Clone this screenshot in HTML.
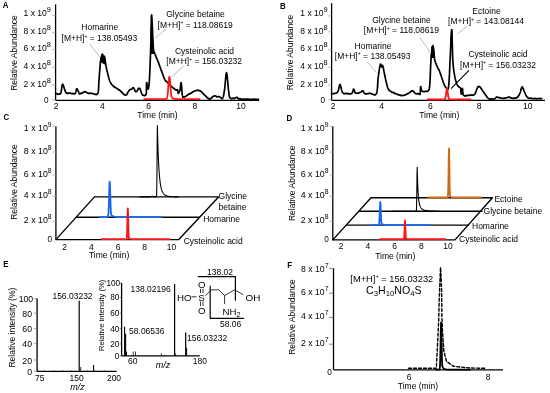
<!DOCTYPE html><html><head><meta charset="utf-8"><style>html,body{margin:0;padding:0;background:#fff;width:550px;height:393px;overflow:hidden;position:relative}</style></head><body><svg width="550" height="393" viewBox="0 0 550 393" style="position:absolute;left:0;top:0;will-change:transform;filter:blur(0.3px)">
<rect width="550" height="393" fill="#fff"/>
<g style='font-family:"Liberation Sans", sans-serif' fill="#000">
<text x="2.8" y="7.7" font-size="8.6" font-weight="bold" fill="#000" transform="translate(2.8,8.1) scale(0.92,1) translate(-2.8,-7.7)">A</text>
<line x1="55.6" y1="4.4" x2="55.6" y2="100.3" stroke="#000" stroke-width="1.3" />
<line x1="52.2" y1="15.6" x2="55.6" y2="15.6" stroke="#999" stroke-width="0.7" />
<text x="50.9" y="16.3" font-size="8.5" text-anchor="end">1 x 10<tspan font-size="7.4" dy="-4.1">9</tspan></text>
<line x1="52.2" y1="32.4" x2="55.6" y2="32.4" stroke="#999" stroke-width="0.7" />
<text x="50.9" y="33.8" font-size="8.5" text-anchor="end">8 x 10<tspan font-size="7.4" dy="-4.1">8</tspan></text>
<line x1="52.2" y1="49.6" x2="55.6" y2="49.6" stroke="#999" stroke-width="0.7" />
<text x="50.9" y="50.6" font-size="8.5" text-anchor="end">6 x 10<tspan font-size="7.4" dy="-4.1">8</tspan></text>
<line x1="52.2" y1="67.3" x2="55.6" y2="67.3" stroke="#999" stroke-width="0.7" />
<text x="50.9" y="69.0" font-size="8.5" text-anchor="end">4 x 10<tspan font-size="7.4" dy="-4.1">8</tspan></text>
<line x1="52.2" y1="85.0" x2="55.6" y2="85.0" stroke="#999" stroke-width="0.7" />
<text x="50.9" y="86.8" font-size="8.5" text-anchor="end">2 x 10<tspan font-size="7.4" dy="-4.1">8</tspan></text>
<line x1="52.2" y1="99.8" x2="55.6" y2="99.8" stroke="#999" stroke-width="0.7" />
<text x="48.6" y="102.9" font-size="8.2" text-anchor="end" >0</text>
<line x1="55.6" y1="100.3" x2="259" y2="100.3" stroke="#000" stroke-width="1.3" />
<text x="56.0" y="109.3" font-size="8.5" text-anchor="middle" >2</text>
<text x="102.25" y="109.3" font-size="8.5" text-anchor="middle" >4</text>
<text x="148.5" y="109.3" font-size="8.5" text-anchor="middle" >6</text>
<text x="194.75" y="109.3" font-size="8.5" text-anchor="middle" >8</text>
<text x="241.0" y="109.3" font-size="8.5" text-anchor="middle" >10</text>
<text x="157.5" y="118.1" font-size="8.5" text-anchor="middle" >Time (min)</text>
<text transform="translate(17.2,53) rotate(-90)" font-size="8.5" text-anchor="middle">Relative Abundance</text>
<text x="99.7" y="30.1" font-size="8.5" text-anchor="middle" >Homarine</text>
<text x="99.4" y="41.0" font-size="8.5" text-anchor="middle">[M+H]<tspan font-size="5.10" dy="-3.4">+</tspan><tspan dy="3.4"> = 138.05493</tspan></text>
<text x="195.5" y="17.4" font-size="8.5" text-anchor="middle" >Glycine betaine</text>
<text x="195.1" y="27.7" font-size="8.5" text-anchor="middle">[M+H]<tspan font-size="5.10" dy="-3.4">+</tspan><tspan dy="3.4"> = 118.08619</tspan></text>
<text x="204.5" y="54" font-size="8.5" text-anchor="middle" >Cysteinolic acid</text>
<text x="204.2" y="64.1" font-size="8.5" text-anchor="middle">[M+H]<tspan font-size="5.10" dy="-3.4">+</tspan><tspan dy="3.4"> = 156.03232</tspan></text>
<line x1="89.6" y1="44" x2="99.9" y2="57.2" stroke="#777" stroke-width="0.5" />
<line x1="166" y1="29.2" x2="155.3" y2="37.9" stroke="#777" stroke-width="0.5" />
<line x1="183.7" y1="66.1" x2="171.8" y2="76.8" stroke="#777" stroke-width="0.5" />
<polyline points="55.60,93.46 55.94,93.65 56.41,93.77 56.97,93.66 57.60,94.10 58.25,94.34 58.89,94.27 59.51,93.87 60.05,94.00 60.50,93.60 60.68,93.32 60.85,92.89 61.00,92.41 61.13,91.86 61.25,91.25 61.36,90.60 61.46,89.92 61.55,89.23 61.64,88.54 61.73,87.75 61.82,87.20 61.91,86.59 62.00,86.03 62.10,85.53 62.21,85.12 62.32,84.80 62.46,84.59 62.60,84.50 62.77,84.19 62.94,84.72 63.11,85.01 63.30,85.40 63.49,85.88 63.68,86.43 63.88,87.03 64.08,87.67 64.28,88.33 64.49,89.01 64.70,89.68 64.92,89.95 65.13,90.93 65.35,91.49 65.56,91.98 65.78,92.39 66.00,92.65 66.46,93.13 66.93,93.37 67.41,93.11 67.90,93.44 68.40,93.36 68.92,92.94 69.45,93.19 70.00,93.14 70.47,93.27 70.99,93.37 71.53,93.76 72.08,93.62 72.64,93.44 73.18,93.83 73.70,93.65 74.19,93.86 74.63,93.78 75.00,93.70 75.31,93.28 75.55,92.80 75.75,92.21 75.91,91.56 76.04,91.23 76.17,90.22 76.29,89.62 76.43,89.14 76.60,88.82 76.80,88.70 77.01,88.79 77.24,89.12 77.48,89.45 77.72,89.95 77.98,90.52 78.24,91.13 78.50,91.65 78.75,92.31 79.01,92.82 79.26,93.23 79.50,93.88 80.00,93.75 80.49,93.72 80.97,93.14 81.47,93.23 82.00,93.29 82.47,92.81 82.96,92.56 83.47,92.11 83.98,92.03 84.49,91.57 85.00,91.80 85.49,91.90 85.96,91.81 86.44,92.41 86.93,92.73 87.44,92.85 88.00,93.20 88.44,93.28 88.89,93.59 89.35,93.36 89.83,93.38 90.33,93.12 90.86,93.38 91.41,93.45 92.00,93.40 92.47,93.58 92.99,93.62 93.55,93.73 94.13,94.05 94.72,94.31 95.31,94.44 95.88,94.19 96.42,94.54 96.91,94.05 97.34,94.10 97.70,93.60 97.82,93.34 97.94,92.81 98.04,92.72 98.13,92.37 98.21,91.99 98.28,91.59 98.35,91.17 98.40,90.72 98.45,90.26 98.50,89.77 98.53,89.27 98.57,88.75 98.60,88.22 98.63,87.68 98.65,87.12 98.67,86.55 98.69,85.97 98.71,85.39 98.74,84.79 98.76,84.20 98.78,83.60 98.81,82.99 98.84,82.39 98.87,81.79 98.91,81.19 98.95,80.74 99.00,80.00 99.04,79.55 99.08,79.09 99.12,78.61 99.16,78.12 99.20,77.62 99.23,77.11 99.27,76.59 99.31,76.06 99.35,75.53 99.39,74.98 99.43,74.43 99.47,73.88 99.51,73.33 99.55,72.77 99.60,72.21 99.64,71.64 99.68,71.08 99.72,70.52 99.76,69.97 99.80,69.41 99.84,68.86 99.89,68.32 99.93,67.78 99.97,67.19 100.01,66.73 100.06,66.22 100.10,65.71 100.14,65.22 100.19,64.74 100.23,64.27 100.27,63.82 100.32,63.38 100.36,62.96 100.41,62.56 100.45,62.17 100.50,61.80 100.61,60.96 100.73,60.17 100.85,59.43 100.98,58.58 101.11,58.08 101.24,57.47 101.37,56.92 101.50,56.41 101.62,55.95 101.75,55.53 101.87,55.17 101.99,54.92 102.10,54.59 102.20,54.37 102.30,54.20 102.51,54.17 102.69,54.65 102.84,55.44 102.98,56.31 103.13,57.04 103.30,57.50 103.67,57.10 104.07,56.21 104.50,56.34 104.57,56.75 104.64,57.07 104.72,57.43 104.79,57.84 104.87,58.30 104.94,58.79 105.02,59.31 105.10,59.86 105.18,60.42 105.26,61.00 105.34,61.60 105.42,62.19 105.50,63.02 105.58,63.37 105.67,63.94 105.75,64.50 105.83,65.03 105.92,65.53 106.00,66.00 106.11,66.56 106.21,67.11 106.32,67.64 106.42,68.16 106.53,68.82 106.64,69.16 106.75,69.66 106.86,70.14 106.97,70.63 107.08,71.11 107.20,71.60 107.32,72.09 107.44,72.59 107.57,72.88 107.70,73.60 107.83,74.09 107.95,74.60 108.08,75.11 108.21,75.63 108.34,76.16 108.48,76.69 108.62,77.28 108.76,77.74 108.90,78.26 109.05,78.77 109.19,79.27 109.35,79.76 109.50,80.22 109.67,80.69 109.83,81.10 110.00,81.50 110.25,82.04 110.52,82.55 110.79,83.33 111.07,83.47 111.36,83.89 111.65,84.28 111.95,84.84 112.26,85.01 112.57,85.35 112.88,85.68 113.20,85.83 113.60,86.37 114.01,86.69 114.43,87.37 114.86,87.25 115.30,87.50 115.73,87.44 116.16,87.98 116.59,88.23 117.00,88.43 117.46,88.81 117.92,89.12 118.38,89.64 118.83,89.75 119.27,90.06 119.70,90.10 120.11,90.69 120.50,91.00 120.91,91.36 121.27,91.74 121.62,92.12 121.95,92.13 122.28,92.86 122.63,93.20 123.00,93.63 123.47,93.88 123.94,94.31 124.44,94.93 124.94,95.02 125.47,95.20 126.00,95.00 126.28,94.80 126.57,94.80 126.86,94.11 127.17,93.67 127.47,93.17 127.78,92.51 128.09,92.13 128.39,91.61 128.68,91.12 128.97,90.83 129.24,90.30 129.50,90.00 130.08,89.63 130.62,89.33 131.12,89.30 131.58,89.16 132.00,89.00 132.42,88.51 132.75,87.98 133.08,87.57 133.50,87.87 133.73,87.86 133.97,88.31 134.22,88.87 134.49,89.51 134.77,90.52 135.06,90.77 135.36,91.28 135.67,91.64 136.00,91.78 136.31,91.71 136.65,91.42 137.00,90.98 137.36,90.58 137.73,89.87 138.10,89.30 138.47,88.45 138.83,88.41 139.17,88.19 139.50,88.36 139.74,88.38 139.96,88.69 140.18,89.11 140.38,89.61 140.59,90.31 140.79,90.81 140.99,91.45 141.19,92.09 141.40,92.70 141.61,93.67 141.83,93.78 142.06,94.19 142.30,94.50 142.81,95.19 143.38,95.30 143.99,95.39 144.58,95.66 145.14,95.45 145.63,95.17 146.00,94.50 146.09,94.21 146.16,93.97 146.23,93.41 146.28,92.92 146.32,92.39 146.36,91.81 146.39,91.19 146.41,90.55 146.42,89.89 146.43,89.22 146.44,88.54 146.45,87.87 146.45,87.20 146.45,86.56 146.45,85.93 146.46,85.34 146.46,84.79 146.47,84.28 146.49,83.83 146.51,83.43 146.53,83.11 146.56,82.86 146.60,82.70 146.69,82.62 146.79,82.82 146.90,83.24 147.02,83.84 147.15,84.56 147.27,84.98 147.40,86.19 147.53,86.99 147.66,87.73 147.78,88.34 147.89,88.78 148.00,89.00 148.15,89.05 148.28,88.90 148.41,88.65 148.54,88.21 148.66,87.61 148.77,86.87 148.89,86.00 149.00,85.00 149.03,84.67 149.07,84.33 149.10,83.99 149.13,83.64 149.16,83.27 149.19,82.90 149.22,82.52 149.25,82.12 149.28,81.45 149.31,81.29 149.34,80.86 149.37,80.41 149.40,79.94 149.43,79.45 149.46,78.95 149.49,78.43 149.52,77.89 149.55,77.33 149.58,76.74 149.61,76.14 149.64,75.51 149.67,74.86 149.70,74.19 149.73,73.48 149.77,72.76 149.80,72.00 149.82,71.63 149.83,71.24 149.85,70.85 149.87,70.45 149.89,70.04 149.90,69.63 149.92,69.21 149.94,68.78 149.96,68.34 149.98,67.90 150.00,67.45 150.01,66.99 150.03,66.53 150.05,66.06 150.07,65.59 150.09,65.11 150.11,64.62 150.13,64.13 150.15,63.64 150.17,63.14 150.19,62.64 150.21,62.13 150.23,61.62 150.25,61.10 150.27,60.58 150.29,59.76 150.31,59.54 150.33,59.01 150.35,58.48 150.37,57.95 150.38,57.41 150.40,56.87 150.42,56.34 150.44,55.80 150.46,55.25 150.48,54.71 150.50,54.17 150.52,53.62 150.54,53.08 150.56,52.53 150.58,51.99 150.59,51.44 150.61,50.90 150.63,50.36 150.65,49.81 150.67,49.27 150.68,48.73 150.70,48.19 150.72,47.65 150.73,47.12 150.75,46.58 150.77,46.05 150.78,45.53 150.80,45.00 150.81,44.51 150.83,44.01 150.84,43.50 150.86,42.98 150.87,42.45 150.88,41.90 150.90,41.35 150.91,40.78 150.92,40.21 150.93,39.63 150.95,39.05 150.96,38.45 150.97,37.85 150.98,37.25 150.99,36.64 151.01,36.03 151.02,35.41 151.03,34.80 151.04,34.18 151.05,33.56 151.06,32.93 151.07,32.31 151.09,31.69 151.10,31.07 151.11,30.46 151.12,29.84 151.13,29.23 151.14,28.63 151.15,28.02 151.16,27.43 151.17,26.84 151.18,26.25 151.19,25.68 151.20,25.11 151.22,24.55 151.23,24.00 151.24,23.46 151.25,22.93 151.26,22.41 151.27,21.90 151.28,21.41 151.29,20.57 151.30,20.46 151.32,20.00 151.33,19.57 151.34,19.15 151.35,18.74 151.36,18.35 151.37,17.98 151.39,17.63 151.40,17.30 151.41,16.98 151.42,16.69 151.43,16.42 151.45,16.17 151.46,15.94 151.47,15.74 151.49,15.56 151.50,15.40 151.53,15.12 151.56,14.96 151.60,14.90 151.63,14.95 151.67,15.10 151.70,15.34 151.73,15.66 151.77,16.05 151.81,16.52 151.84,17.05 151.88,17.63 151.91,18.27 151.95,18.94 151.99,19.66 152.02,20.40 152.06,21.17 152.10,21.95 152.14,22.74 152.17,23.54 152.21,24.33 152.25,25.11 152.29,25.88 152.32,26.83 152.36,27.33 152.40,28.00 152.42,28.42 152.45,28.85 152.47,29.30 152.49,29.76 152.51,30.23 152.54,30.72 152.56,31.22 152.58,31.73 152.60,32.26 152.62,32.78 152.64,33.32 152.66,33.87 152.68,34.42 152.70,34.97 152.72,35.53 152.74,36.09 152.77,36.66 152.79,37.22 152.81,37.79 152.83,38.35 152.85,38.91 152.88,39.47 152.90,40.03 152.92,40.58 152.95,41.13 152.97,41.67 153.00,42.20 153.02,42.72 153.05,43.24 153.08,43.74 153.11,44.23 153.13,44.71 153.16,45.18 153.19,45.63 153.23,46.07 153.26,46.49 153.29,46.90 153.33,46.99 153.36,47.65 153.40,48.00 153.51,48.91 153.64,49.71 153.77,50.41 153.91,51.03 154.06,51.58 154.21,52.07 154.36,52.30 154.52,52.89 154.67,53.25 154.83,53.60 154.98,53.93 155.13,54.27 155.27,54.62 155.40,54.91 155.62,55.64 155.82,56.19 156.01,56.68 156.20,57.12 156.39,57.56 156.58,58.30 156.78,58.47 157.00,59.00 157.18,59.46 157.37,59.93 157.57,60.41 157.77,60.56 157.97,61.40 158.18,61.91 158.39,62.42 158.59,62.95 158.80,63.43 159.00,64.00 159.18,64.49 159.36,64.98 159.55,65.49 159.73,66.00 159.91,66.56 160.09,67.03 160.27,67.55 160.45,68.07 160.64,68.59 160.82,69.10 161.00,69.91 161.18,70.10 161.36,70.60 161.55,71.10 161.73,71.60 161.91,72.09 162.09,72.84 162.27,73.07 162.45,73.56 162.64,74.05 162.82,74.52 163.00,75.00 163.20,75.82 163.38,76.06 163.57,76.59 163.75,77.12 163.94,77.65 164.13,78.16 164.33,78.48 164.54,79.13 164.76,79.58 165.00,80.00 165.32,80.46 165.66,80.80 166.01,81.23 166.38,81.56 166.76,81.78 167.16,82.23 167.57,82.59 168.00,83.31 168.33,83.33 168.67,83.68 169.02,84.41 169.38,84.42 169.75,84.81 170.13,84.91 170.50,85.58 170.88,85.95 171.26,86.06 171.63,86.67 172.00,87.00 172.41,87.14 172.84,87.71 173.28,88.07 173.72,88.20 174.16,88.75 174.58,89.06 174.98,89.34 175.36,89.61 175.70,89.83 176.00,90.07 176.71,90.10 177.14,89.67 177.50,90.00 177.66,90.45 177.79,91.13 177.89,91.91 177.99,92.64 178.12,93.19 178.30,93.00 178.50,93.31 178.73,93.04 178.99,92.62 179.26,92.09 179.52,91.39 179.78,90.75 180.00,90.00 180.10,89.55 180.20,88.98 180.29,88.33 180.38,87.60 180.46,86.84 180.54,85.97 180.62,85.32 180.70,84.61 180.78,83.96 180.86,83.41 180.95,82.99 181.03,82.71 181.11,82.60 181.20,82.70 181.25,82.85 181.29,83.07 181.34,83.36 181.38,83.72 181.43,84.12 181.47,84.58 181.51,85.09 181.55,85.68 181.60,86.21 181.64,86.81 181.68,87.44 181.72,88.09 181.77,88.74 181.81,89.41 181.86,90.07 181.91,90.73 181.96,91.38 182.01,92.01 182.06,92.62 182.12,93.20 182.17,93.75 182.23,94.26 182.30,94.72 182.36,95.14 182.43,95.50 182.50,95.80 182.93,97.14 183.44,97.10 183.98,97.17 184.51,96.76 185.00,96.61 185.51,96.45 185.97,96.16 186.44,95.88 187.00,95.40 187.44,95.28 187.93,94.84 188.44,94.54 188.96,93.87 189.49,93.91 190.00,93.92 190.51,93.29 191.04,93.19 191.56,92.64 192.07,92.63 192.56,92.05 193.00,91.80 193.56,91.74 194.03,91.27 194.49,91.08 195.00,90.81 195.48,90.76 195.99,90.63 196.51,90.44 197.02,90.44 197.50,90.40 198.04,90.08 198.53,90.44 199.01,90.54 199.50,90.81 200.00,90.94 200.50,90.89 201.00,91.60 201.50,91.65 201.90,92.36 202.30,92.75 202.70,92.93 203.10,93.59 203.50,94.00 203.90,94.13 204.30,94.80 204.70,95.21 205.10,95.48 205.50,96.00 205.89,96.40 206.28,96.44 206.66,97.20 207.07,97.57 207.50,97.50 207.94,98.26 208.38,98.65 208.85,98.70 209.38,99.16 210.00,98.78 210.36,98.93 210.77,98.66 211.21,98.19 211.67,97.89 212.14,97.45 212.61,96.63 213.07,96.60 213.51,96.24 213.93,96.27 214.30,95.80 214.95,95.87 215.52,96.03 216.03,96.14 216.52,96.79 217.00,97.00 217.56,96.77 218.06,96.77 218.58,96.47 219.20,96.60 219.63,96.71 220.10,97.22 220.61,97.71 221.12,97.86 221.62,98.48 222.09,98.56 222.50,98.58 222.65,98.09 222.79,97.84 222.93,97.55 223.06,97.22 223.18,96.86 223.30,96.46 223.42,96.03 223.53,95.96 223.64,95.07 223.74,94.54 223.85,93.98 223.95,93.39 224.06,92.77 224.16,92.12 224.27,91.44 224.38,90.73 224.50,90.00 224.56,89.58 224.62,89.17 224.68,88.69 224.74,88.18 224.79,87.64 224.85,87.07 224.91,86.48 224.97,85.86 225.03,85.22 225.09,84.57 225.15,83.91 225.21,83.24 225.26,82.56 225.32,81.88 225.38,81.20 225.44,80.53 225.50,79.86 225.56,79.19 225.62,78.57 225.68,77.94 225.74,77.34 225.79,76.76 225.85,76.21 225.91,75.69 225.97,75.21 226.03,74.76 226.09,74.35 226.15,73.98 226.21,73.67 226.26,73.40 226.32,73.19 226.38,73.03 226.44,72.93 226.50,72.90 226.56,72.60 226.62,73.03 226.68,73.19 226.74,73.40 226.80,73.67 226.86,73.99 226.92,74.36 226.99,74.77 227.05,75.23 227.11,75.72 227.17,76.24 227.23,76.80 227.30,77.38 227.36,77.98 227.42,78.61 227.48,79.25 227.54,79.91 227.60,80.26 227.67,81.26 227.73,81.94 227.79,82.62 227.85,83.30 227.90,83.97 227.96,84.63 228.02,85.28 228.08,85.91 228.13,86.53 228.19,87.12 228.24,87.68 228.30,88.22 228.35,88.72 228.40,89.19 228.45,89.62 228.50,90.00 228.60,90.79 228.69,91.40 228.77,92.22 228.85,92.86 228.91,93.45 228.98,94.00 229.04,94.51 229.11,94.99 229.18,95.43 229.25,95.84 229.34,96.22 229.43,96.57 229.54,96.90 229.66,97.21 229.80,97.31 230.21,98.07 230.69,98.39 231.22,98.79 231.79,98.56 232.39,98.25 233.00,98.50 233.49,98.07 234.01,98.33 234.56,98.52 235.12,97.97 235.68,97.80 236.22,97.62 236.74,97.24 237.20,97.50 237.57,97.62 237.66,97.86 237.71,98.17 237.96,98.53 238.64,98.79 240.00,98.62 240.31,99.02 240.65,99.05 241.02,99.09 241.42,99.09 241.85,99.10 242.31,99.50 242.79,99.14 243.30,99.15 243.82,99.45 244.36,99.18 244.92,99.34 245.50,99.20 246.08,99.02 246.68,99.21 247.28,99.12 247.89,99.23 248.50,98.97 249.12,99.24 249.73,99.46 250.35,99.25 250.96,99.28 251.56,99.26 252.15,99.49 252.74,99.26 253.31,99.13 253.87,99.27 254.41,99.05 254.94,99.27 255.44,99.53 255.92,99.28 256.38,99.28 256.81,99.67 257.21,99.29 257.59,99.29 257.93,99.57 258.23,99.30 258.50,99.30" fill="none" stroke="#000" stroke-width="1.7" stroke-linejoin="round" stroke-linecap="round" />
<polygon points="100.6,62 101.4,57 102.3,54.6 103.3,56.8 104.4,56.3 105.3,61 106.2,65.5" fill="#000"/>
<polygon points="150.6,30 151.5,16 152.6,30 153.6,48 154.6,54 150.9,54" fill="#000"/>
<polyline points="144.20,99.10 160.00,99.10 160.25,99.10 160.50,99.10 160.75,99.10 161.00,99.10 161.25,99.10 161.50,99.10 161.75,99.10 162.00,99.10 162.25,99.10 162.50,99.10 162.75,99.10 163.00,99.10 163.25,99.10 163.50,99.10 163.75,99.10 164.00,99.10 164.25,99.10 164.50,99.10 164.75,99.10 165.00,99.10 165.25,99.10 165.50,99.09 165.75,99.07 166.00,99.03 166.25,98.94 166.50,98.77 166.75,98.43 167.00,97.85 167.25,96.89 167.50,95.43 167.75,93.38 168.00,90.73 168.25,87.59 168.50,84.23 168.75,81.05 169.00,78.51 169.25,77.05 169.40,76.80 169.50,76.91 169.75,78.12 170.00,80.47 170.25,83.56 170.50,86.92 170.75,90.13 171.00,92.90 171.25,95.07 171.50,96.64 171.75,97.30 172.00,97.56 172.25,97.79 172.50,97.98 172.75,98.14 173.00,98.28 173.25,98.40 173.50,98.50 173.75,98.59 174.00,98.66 174.25,98.72 174.50,98.78 174.75,98.82 175.00,98.86 175.25,98.90 175.50,98.93 175.75,98.95 176.00,98.97 176.25,98.99 176.50,99.01 176.75,99.02 177.00,99.03 177.25,99.04 177.50,99.05 177.75,99.06 178.00,99.06 178.25,99.07 178.50,99.07 178.75,99.08 179.00,99.08 179.25,99.08 179.50,99.09 179.75,99.09 180.00,99.09 180.25,99.09 180.50,99.09 180.75,99.09 181.00,99.09 181.25,99.10 181.50,99.10 181.75,99.10 182.00,99.10 182.25,99.10 182.50,99.10 182.75,99.10 183.00,99.10 183.25,99.10 183.50,99.10 183.75,99.10 184.00,99.10 184.25,99.10 184.50,99.10 184.75,99.10 185.00,99.10 185.25,99.10 185.50,99.10 185.75,99.10 186.00,99.10 186.25,99.10 186.50,99.10 186.75,99.10 187.00,99.10 187.25,99.10 187.50,99.10 187.75,99.10 188.00,99.10 188.25,99.10 188.50,99.10 188.75,99.10 189.00,99.10 189.25,99.10 189.50,99.10 189.75,99.10 190.00,99.10 190.25,99.10 190.50,99.10 190.75,99.10 191.00,99.10 191.25,99.10 191.50,99.10 191.75,99.10 192.00,99.10 192.25,99.10 192.50,99.10 192.75,99.10 193.00,99.10 193.25,99.10 193.50,99.10 193.75,99.10 194.00,99.10 194.25,99.10 194.50,99.10 194.75,99.10 195.00,99.10 195.25,99.10 195.50,99.10 195.75,99.10 196.00,99.10 196.25,99.10 196.50,99.10 196.75,99.10 197.00,99.10 197.25,99.10 197.50,99.10 197.75,99.10 198.00,99.10 198.25,99.10 198.50,99.10 198.75,99.10 199.00,99.10 199.25,99.10 199.50,99.10" fill="none" stroke="#fb1418" stroke-width="1.8" stroke-linejoin="round" stroke-linecap="round" />
<text x="280.1" y="8.75" font-size="8.6" font-weight="bold" fill="#000" transform="translate(280.1,9.15) scale(0.92,1) translate(-280.1,-8.75)">B</text>
<line x1="331.6" y1="3.2" x2="331.6" y2="100.3" stroke="#000" stroke-width="1.3" />
<line x1="328.20000000000005" y1="15.9" x2="331.6" y2="15.9" stroke="#999" stroke-width="0.7" />
<text x="327.6" y="16.3" font-size="8.5" text-anchor="end">1 x 10<tspan font-size="7.4" dy="-4.1">9</tspan></text>
<line x1="328.20000000000005" y1="31.8" x2="331.6" y2="31.8" stroke="#999" stroke-width="0.7" />
<text x="327.6" y="33.8" font-size="8.5" text-anchor="end">8 x 10<tspan font-size="7.4" dy="-4.1">8</tspan></text>
<line x1="328.20000000000005" y1="49.6" x2="331.6" y2="49.6" stroke="#999" stroke-width="0.7" />
<text x="327.6" y="50.6" font-size="8.5" text-anchor="end">6 x 10<tspan font-size="7.4" dy="-4.1">8</tspan></text>
<line x1="328.20000000000005" y1="67.3" x2="331.6" y2="67.3" stroke="#999" stroke-width="0.7" />
<text x="327.6" y="69.0" font-size="8.5" text-anchor="end">4 x 10<tspan font-size="7.4" dy="-4.1">8</tspan></text>
<line x1="328.20000000000005" y1="85.0" x2="331.6" y2="85.0" stroke="#999" stroke-width="0.7" />
<text x="327.6" y="86.8" font-size="8.5" text-anchor="end">2 x 10<tspan font-size="7.4" dy="-4.1">8</tspan></text>
<line x1="328.20000000000005" y1="99.8" x2="331.6" y2="99.8" stroke="#999" stroke-width="0.7" />
<text x="325" y="102.9" font-size="8.2" text-anchor="end" >0</text>
<line x1="331.6" y1="100.3" x2="545" y2="100.3" stroke="#000" stroke-width="1.3" />
<text x="333.0" y="109.3" font-size="8.5" text-anchor="middle" >2</text>
<text x="381.7" y="109.3" font-size="8.5" text-anchor="middle" >4</text>
<text x="430.4" y="109.3" font-size="8.5" text-anchor="middle" >6</text>
<text x="479.1" y="109.3" font-size="8.5" text-anchor="middle" >8</text>
<text x="527.8" y="109.3" font-size="8.5" text-anchor="middle" >10</text>
<text x="439.3" y="118.1" font-size="8.5" text-anchor="middle" >Time (min)</text>
<text transform="translate(292.6,52.5) rotate(-90)" font-size="8.5" text-anchor="middle">Relative Abundance</text>
<text x="401.5" y="23" font-size="8.5" text-anchor="middle" >Glycine betaine</text>
<text x="401.4" y="33" font-size="8.5" text-anchor="middle">[M+H]<tspan font-size="5.10" dy="-3.4">+</tspan><tspan dy="3.4"> = 118.08619</tspan></text>
<text x="373" y="49" font-size="8.5" text-anchor="middle" >Homarine</text>
<text x="372.7" y="58.7" font-size="8.5" text-anchor="middle">[M+H]<tspan font-size="5.10" dy="-3.4">+</tspan><tspan dy="3.4"> = 138.05493</tspan></text>
<text x="486.5" y="14" font-size="8.5" text-anchor="middle" >Ectoine</text>
<text x="486" y="24.4" font-size="8.5" text-anchor="middle">[M+H]<tspan font-size="5.10" dy="-3.4">+</tspan><tspan dy="3.4"> = 143.08144</tspan></text>
<text x="498" y="57" font-size="8.5" text-anchor="middle" >Cysteinolic acid</text>
<text x="498" y="67.5" font-size="8.5" text-anchor="middle">[M+H]<tspan font-size="5.10" dy="-3.4">+</tspan><tspan dy="3.4"> = 156.03232</tspan></text>
<line x1="367.3" y1="61.8" x2="376.4" y2="72.7" stroke="#777" stroke-width="0.5" />
<line x1="420.1" y1="37.7" x2="430" y2="52" stroke="#777" stroke-width="0.5" />
<line x1="467" y1="26" x2="457.6" y2="34" stroke="#777" stroke-width="0.5" />
<line x1="468.9" y1="70.3" x2="451.1" y2="88.6" stroke="#000" stroke-width="1.1" />
<polyline points="331.60,93.81 331.95,93.58 332.44,93.57 333.02,93.79 333.66,93.54 334.32,93.67 334.95,93.44 335.53,93.15 336.00,93.20 336.50,92.97 336.91,92.74 337.26,92.42 337.58,92.04 337.88,91.54 338.20,90.80 338.35,90.50 338.49,89.99 338.62,89.40 338.75,88.75 338.88,88.07 339.01,87.38 339.13,86.71 339.26,85.76 339.39,85.53 339.53,85.06 339.68,84.72 339.83,84.53 340.00,84.50 340.13,84.61 340.27,84.51 340.40,85.17 340.54,85.58 340.68,86.07 340.82,86.62 340.97,87.21 341.12,87.84 341.27,88.33 341.43,89.13 341.59,89.77 341.76,90.39 341.94,90.98 342.12,91.51 342.30,91.82 342.50,92.39 342.70,92.70 343.16,93.15 343.65,93.55 344.17,93.54 344.72,93.88 345.28,93.51 345.85,93.41 346.43,93.39 347.00,93.71 347.53,93.46 348.09,93.89 348.67,93.64 349.26,94.05 349.84,93.80 350.40,93.73 350.93,93.79 351.40,93.69 351.80,93.30 352.13,93.16 352.40,92.67 352.62,92.06 352.80,91.21 352.96,90.73 353.10,90.12 353.25,89.61 353.41,89.25 353.60,89.10 353.81,89.01 354.01,89.59 354.19,90.15 354.38,90.81 354.59,91.50 354.84,91.93 355.14,92.67 355.50,93.00 355.90,93.23 356.36,93.21 356.87,93.20 357.42,93.42 357.98,93.04 358.54,93.15 359.07,92.77 359.56,92.61 360.00,92.50 360.56,92.25 361.05,92.00 361.49,91.50 361.90,91.16 362.29,91.14 362.70,90.90 363.03,91.09 363.31,91.15 363.57,91.91 363.85,92.42 364.16,92.91 364.53,93.44 365.00,93.60 365.38,93.70 365.80,94.03 366.26,93.74 366.74,93.71 367.24,93.85 367.77,93.59 368.31,93.70 368.87,93.46 369.43,93.40 370.00,93.40 370.50,93.23 371.04,93.60 371.61,94.01 372.20,94.05 372.80,94.17 373.40,94.51 373.99,94.88 374.56,94.74 375.09,95.03 375.58,94.52 376.02,94.16 376.40,93.53 376.52,93.33 376.64,93.03 376.74,92.69 376.84,92.33 376.93,91.93 377.02,91.51 377.10,91.07 377.17,90.60 377.23,90.11 377.29,89.61 377.35,89.08 377.40,88.54 377.45,87.92 377.49,87.42 377.53,86.85 377.57,86.26 377.60,85.67 377.64,85.08 377.67,84.48 377.71,83.88 377.74,83.28 377.77,82.69 377.80,82.10 377.84,81.52 377.87,80.94 377.91,80.38 377.95,79.82 377.99,79.28 378.04,78.76 378.09,78.25 378.14,77.77 378.20,77.30 378.28,76.71 378.36,76.11 378.44,75.50 378.53,75.20 378.62,74.27 378.70,73.65 378.79,73.03 378.88,72.41 378.97,71.80 379.06,71.19 379.15,70.60 379.24,70.01 379.33,69.44 379.42,68.89 379.51,68.35 379.60,67.99 379.68,67.34 379.77,66.87 379.85,66.43 379.93,66.02 380.01,65.65 380.09,65.30 380.16,65.00 380.23,64.73 380.30,64.50 380.60,64.08 380.84,64.36 381.06,65.55 381.27,66.51 381.50,67.00 381.88,66.16 382.26,65.41 382.70,65.50 382.79,65.74 382.88,65.80 382.98,66.40 383.08,66.81 383.18,67.26 383.29,67.75 383.39,68.28 383.50,68.83 383.61,69.40 383.72,69.99 383.83,70.58 383.94,71.46 384.06,71.77 384.17,72.36 384.28,72.93 384.39,73.48 384.50,74.00 384.61,74.51 384.71,75.02 384.82,75.54 384.93,76.06 385.03,76.80 385.13,77.11 385.24,77.64 385.35,78.16 385.45,78.69 385.56,79.21 385.67,79.72 385.79,80.24 385.90,80.75 386.02,81.25 386.14,81.49 386.27,82.22 386.40,82.70 386.54,83.23 386.68,83.77 386.81,84.31 386.94,84.84 387.07,85.37 387.20,86.13 387.34,86.41 387.49,86.92 387.65,87.41 387.82,87.89 388.01,88.36 388.22,89.14 388.45,89.22 388.71,89.62 389.00,90.00 389.34,90.49 389.72,90.72 390.12,91.05 390.55,91.24 391.00,91.63 391.48,91.89 391.96,92.17 392.46,92.37 392.97,92.33 393.48,92.80 393.99,92.67 394.50,93.21 395.00,93.73 395.50,93.60 396.00,93.80 396.51,94.10 397.03,94.19 397.56,94.40 398.10,94.56 398.64,95.04 399.17,94.89 399.71,94.99 400.24,95.17 400.76,95.54 401.27,95.37 401.77,95.67 402.24,95.49 402.70,95.50 403.26,95.27 403.79,95.40 404.30,95.10 404.79,95.12 405.27,94.94 405.74,94.59 406.20,94.51 406.65,94.28 407.10,93.86 407.55,93.82 408.00,93.60 408.50,93.40 409.01,93.02 409.51,92.51 410.01,92.32 410.51,91.96 410.99,91.57 411.45,91.34 411.89,91.11 412.31,90.70 412.70,90.90 413.19,91.03 413.62,91.64 414.00,91.82 414.35,92.35 414.70,92.77 415.08,93.31 415.50,93.60 415.98,93.71 416.52,93.78 417.08,93.81 417.63,93.69 418.15,93.91 418.62,93.59 419.00,93.60 419.73,94.38 420.10,94.30 420.15,94.00 420.20,93.59 420.24,93.09 420.28,92.51 420.31,91.88 420.35,91.21 420.38,90.52 420.41,89.82 420.44,89.15 420.47,88.51 420.51,87.93 420.55,87.42 420.59,86.99 420.64,86.68 420.70,86.50 420.79,86.77 420.88,86.73 420.97,87.20 421.07,87.83 421.18,88.54 421.31,89.26 421.47,89.94 421.67,90.51 421.90,90.90 422.34,91.24 422.87,91.45 423.46,91.57 424.09,91.57 424.71,91.56 425.30,91.50 425.80,91.14 426.34,91.47 426.87,91.40 427.40,91.34 427.89,90.93 428.33,90.81 428.70,90.30 428.85,90.00 428.99,89.36 429.10,89.40 429.21,89.09 429.30,88.75 429.37,88.38 429.44,87.96 429.51,87.48 429.57,86.94 429.63,86.32 429.69,85.62 429.75,84.82 429.82,83.92 429.90,82.90 429.93,82.55 429.95,82.19 429.97,81.81 430.00,81.61 430.02,80.99 430.05,80.56 430.07,80.11 430.09,79.65 430.12,79.17 430.14,78.68 430.16,78.19 430.18,77.68 430.20,77.16 430.23,76.63 430.25,76.09 430.27,75.54 430.29,74.99 430.31,74.43 430.34,73.87 430.36,73.30 430.38,72.73 430.40,72.16 430.42,71.58 430.45,71.00 430.47,70.42 430.49,69.85 430.51,69.27 430.54,68.70 430.56,68.12 430.59,67.56 430.61,66.99 430.63,66.43 430.66,65.88 430.68,65.33 430.71,64.80 430.74,64.26 430.76,63.74 430.79,63.23 430.82,62.73 430.85,62.24 430.88,61.77 430.91,61.30 430.94,60.85 430.97,60.42 431.00,59.77 431.05,59.34 431.11,58.68 431.17,58.01 431.23,57.35 431.29,56.69 431.36,56.04 431.43,55.39 431.50,54.76 431.57,54.13 431.64,53.51 431.71,52.90 431.78,52.31 431.85,51.73 431.93,51.17 432.00,50.63 432.07,50.08 432.14,49.60 432.21,49.12 432.28,48.67 432.35,48.24 432.41,47.83 432.47,47.46 432.54,47.12 432.59,46.80 432.65,46.52 432.70,46.28 432.75,46.07 432.80,45.90 432.90,45.65 432.98,45.67 433.05,45.90 433.10,46.48 433.15,46.89 433.19,47.58 433.23,48.35 433.28,49.16 433.34,49.98 433.41,50.77 433.50,51.50 433.56,51.91 433.62,52.35 433.68,52.81 433.74,53.29 433.80,53.79 433.87,54.30 433.93,54.82 434.00,55.35 434.08,55.89 434.15,56.47 434.23,56.98 434.31,57.52 434.40,58.05 434.48,58.58 434.58,59.10 434.68,59.60 434.78,60.09 434.89,60.55 435.00,61.00 435.16,61.42 435.33,62.09 435.51,62.62 435.70,63.14 435.91,63.65 436.12,64.15 436.33,64.65 436.55,65.12 436.76,65.58 436.97,66.03 437.18,66.46 437.37,66.91 437.56,67.27 437.74,67.64 437.90,68.00 438.19,68.60 438.41,69.20 438.59,69.28 438.77,69.57 438.98,69.94 439.25,70.52 439.60,71.12 439.72,71.73 439.86,72.10 440.00,72.50 440.15,72.93 440.31,73.39 440.48,73.87 440.65,74.41 440.83,74.89 441.01,75.42 441.19,75.97 441.38,76.52 441.56,77.08 441.75,77.46 441.94,78.19 442.12,78.74 442.31,79.28 442.49,79.81 442.67,80.32 442.84,80.66 443.01,81.29 443.17,81.74 443.32,82.16 443.46,82.55 443.60,82.90 443.90,83.85 444.17,84.32 444.41,84.90 444.64,85.40 444.86,85.85 445.06,86.25 445.26,86.59 445.47,86.91 445.68,87.21 445.90,87.50 446.38,88.19 446.88,88.80 447.37,89.24 447.82,89.43 448.20,88.60 448.27,88.35 448.34,88.07 448.40,87.75 448.47,87.40 448.52,87.02 448.58,86.61 448.63,86.18 448.68,85.72 448.73,85.23 448.78,84.73 448.82,84.49 448.87,83.66 448.91,83.10 448.95,82.52 448.99,81.94 449.03,81.34 449.06,80.73 449.10,80.12 449.14,79.50 449.18,78.87 449.22,78.25 449.26,77.62 449.30,77.00 449.33,76.58 449.35,76.16 449.38,75.75 449.40,75.33 449.43,74.91 449.45,74.49 449.47,74.08 449.49,73.66 449.51,73.23 449.53,72.80 449.55,72.37 449.57,71.94 449.59,71.50 449.61,71.05 449.63,70.60 449.65,70.14 449.67,69.67 449.69,69.20 449.71,68.72 449.73,68.22 449.75,67.72 449.77,67.21 449.79,66.68 449.82,66.15 449.84,65.56 449.86,65.04 449.89,64.46 449.91,63.87 449.94,63.27 449.97,62.65 450.00,62.01 450.03,61.36 450.07,60.69 450.10,60.00 450.12,59.59 450.14,59.16 450.16,58.71 450.18,58.24 450.21,57.74 450.23,57.23 450.25,56.70 450.28,56.15 450.30,55.58 450.33,55.01 450.35,54.41 450.38,53.80 450.40,53.19 450.43,52.56 450.46,51.92 450.48,51.27 450.51,50.61 450.54,49.95 450.56,49.28 450.59,48.61 450.62,47.93 450.65,47.25 450.68,46.57 450.71,45.89 450.74,45.20 450.76,44.52 450.79,43.85 450.82,43.17 450.85,42.58 450.88,41.84 450.91,41.18 450.94,40.53 450.97,39.89 451.00,39.26 451.03,38.64 451.06,38.03 451.09,37.43 451.12,36.85 451.15,36.28 451.17,35.73 451.20,35.19 451.23,34.67 451.26,34.17 451.29,33.70 451.32,33.24 451.34,32.80 451.37,32.39 451.40,32.00 451.43,31.64 451.45,31.30 451.48,30.99 451.51,30.71 451.53,30.46 451.56,30.24 451.58,30.05 451.61,29.89 451.63,29.76 451.65,29.67 451.68,29.62 451.70,29.60 451.72,29.62 451.74,29.67 451.77,29.77 451.79,29.89 451.81,30.05 451.83,30.25 451.85,30.47 451.87,30.73 451.89,31.01 451.91,31.33 451.92,31.67 451.94,32.04 451.96,32.43 451.98,32.85 452.00,33.29 452.01,33.75 452.03,34.24 452.05,34.74 452.06,35.26 452.08,35.80 452.10,36.36 452.11,36.94 452.13,37.52 452.15,38.13 452.16,38.74 452.18,39.37 452.20,40.00 452.21,40.65 452.23,41.31 452.24,41.97 452.26,42.64 452.28,43.31 452.29,43.99 452.31,44.67 452.32,45.35 452.34,46.04 452.36,46.72 452.37,47.40 452.39,48.09 452.41,48.76 452.42,49.44 452.44,50.10 452.46,50.77 452.48,51.42 452.49,52.06 452.51,52.70 452.53,53.33 452.55,53.94 452.57,54.54 452.59,55.13 452.61,55.70 452.63,56.25 452.65,56.79 452.67,57.31 452.69,57.82 452.71,58.30 452.73,58.76 452.75,59.20 452.78,59.61 452.80,60.00 452.85,60.77 452.90,61.51 452.95,62.21 453.00,62.90 453.05,63.56 453.10,64.19 453.16,64.80 453.21,65.39 453.26,65.96 453.32,66.51 453.37,67.04 453.43,67.56 453.49,68.06 453.55,68.54 453.60,69.02 453.66,69.48 453.72,69.92 453.78,70.36 453.85,70.80 453.91,71.35 453.97,71.64 454.03,72.05 454.10,72.46 454.16,72.86 454.23,73.27 454.30,73.67 454.36,74.08 454.43,74.49 454.50,74.90 454.61,75.56 454.73,76.20 454.84,76.82 454.96,77.39 455.08,78.01 455.21,78.58 455.33,79.13 455.46,79.66 455.59,80.18 455.72,80.67 455.85,81.15 455.98,81.63 456.12,82.05 456.25,82.48 456.39,82.89 456.52,83.28 456.66,83.65 456.80,84.00 457.13,84.69 457.48,85.28 457.85,85.76 458.23,86.46 458.59,86.48 458.93,86.77 459.24,87.17 459.50,87.30 460.00,87.66 460.32,88.05 460.60,88.40 460.68,88.78 460.75,89.29 460.81,89.90 460.87,90.57 460.92,91.26 460.98,91.94 461.03,92.58 461.09,93.14 461.15,93.59 461.22,93.89 461.30,94.00 461.39,94.19 461.48,93.53 461.57,93.00 461.67,92.35 461.78,91.62 461.88,90.88 461.99,90.16 462.10,89.52 462.20,89.01 462.30,88.69 462.40,88.43 462.48,88.74 462.55,89.05 462.61,89.51 462.66,90.07 462.72,90.72 462.77,91.42 462.84,92.15 462.91,92.86 463.00,93.53 463.11,94.13 463.24,94.63 463.40,95.04 463.79,95.45 464.26,95.66 464.79,96.03 465.36,95.68 465.94,95.86 466.50,95.60 466.97,95.36 467.44,95.60 467.91,95.57 468.40,95.26 468.91,95.46 469.44,95.35 470.00,95.30 470.47,94.96 470.96,95.26 471.47,95.09 472.00,95.28 472.53,94.96 473.06,95.17 473.59,95.12 474.10,94.72 474.60,94.50 474.85,93.99 475.09,93.60 475.33,93.13 475.56,92.60 475.79,92.31 476.02,91.42 476.24,90.80 476.46,90.16 476.69,89.54 476.92,88.69 477.15,88.37 477.38,87.84 477.63,87.38 477.88,86.99 478.14,86.84 478.42,86.49 478.70,86.40 478.98,86.42 479.28,86.65 479.59,86.73 479.91,86.99 480.24,87.32 480.57,87.45 480.92,88.13 481.26,88.60 481.61,89.36 481.95,89.61 482.30,90.13 482.64,90.99 482.97,91.19 483.30,91.69 483.62,92.18 483.93,92.43 484.22,93.04 484.50,93.40 484.89,93.90 485.25,94.72 485.58,94.90 485.90,95.38 486.20,95.85 486.50,96.24 486.80,96.74 487.10,97.14 487.42,97.51 487.75,97.84 488.11,98.15 488.50,98.40 488.97,98.97 489.49,98.79 490.04,99.15 490.62,99.01 491.21,98.82 491.79,99.08 492.37,99.02 492.91,99.04 493.43,99.01 493.89,98.95 494.30,98.90 494.98,98.55 495.46,98.26 495.84,97.81 496.22,97.21 496.70,97.20 497.19,97.18 497.71,97.14 498.25,97.41 498.81,97.75 499.40,97.77 500.00,97.56 500.46,97.98 500.93,98.08 501.40,98.21 501.89,98.27 502.40,98.35 502.91,98.36 503.45,98.42 504.00,98.06 504.46,98.34 504.95,98.23 505.46,97.97 505.98,97.93 506.50,97.85 507.02,97.60 507.54,97.45 508.05,97.32 508.54,97.23 509.00,96.90 509.55,97.24 510.07,97.70 510.56,97.53 511.05,97.72 511.53,98.13 512.01,98.10 512.50,98.24 513.00,98.63 513.53,98.32 514.07,98.04 514.62,98.30 515.17,98.09 515.72,98.15 516.24,97.68 516.74,97.79 517.20,97.50 517.54,97.40 517.86,96.86 518.16,96.47 518.45,96.04 518.73,95.42 519.00,95.09 519.26,94.58 519.51,94.06 519.75,93.27 520.00,93.00 520.20,92.51 520.39,91.95 520.57,91.32 520.74,90.67 520.91,89.95 521.08,89.35 521.24,88.73 521.40,88.16 521.57,87.67 521.74,87.29 521.92,87.31 522.10,86.90 522.31,86.94 522.52,87.15 522.73,87.49 522.95,88.17 523.16,88.48 523.39,89.08 523.61,89.70 523.83,90.34 524.05,90.78 524.28,91.51 524.50,92.00 524.74,92.50 524.98,93.01 525.22,93.29 525.45,94.05 525.69,94.56 525.94,95.06 526.19,95.52 526.45,96.25 526.72,96.35 527.00,96.70 527.36,97.11 527.65,97.50 527.93,97.72 528.28,97.93 528.74,98.25 529.40,98.26 530.30,98.11 530.66,98.44 531.07,98.48 531.53,98.20 532.03,98.53 532.57,98.68 533.13,98.57 533.72,98.53 534.33,98.59 534.95,98.30 535.58,98.60 536.21,98.91 536.83,98.61 537.45,98.70 538.05,98.61 538.64,98.81 539.19,98.60 539.72,98.31 540.21,98.60 540.66,98.59 541.06,98.84 541.41,98.60 541.70,98.60" fill="none" stroke="#000" stroke-width="1.7" stroke-linejoin="round" stroke-linecap="round" />
<polygon points="431.4,46 434,46 434.8,52 435.3,58 430.3,58 430.9,52" fill="#000"/>
<polygon points="451.1,30 452.2,30 452.9,41 450.3,41" fill="#000"/>
<polyline points="427.60,99.50 440.00,99.50 440.25,99.50 440.50,99.50 440.75,99.50 441.00,99.50 441.25,99.50 441.50,99.50 441.75,99.50 442.00,99.50 442.25,99.50 442.50,99.50 442.75,99.50 443.00,99.50 443.25,99.50 443.50,99.50 443.75,99.50 444.00,99.49 444.25,99.47 444.50,99.42 444.75,99.29 445.00,99.02 445.25,98.50 445.50,97.62 445.75,96.28 446.00,94.51 446.25,92.48 446.50,90.53 446.75,89.12 447.00,88.60 447.25,89.12 447.50,90.53 447.75,92.48 448.00,94.51 448.25,96.28 448.50,97.62 448.75,98.50 449.00,98.88 449.25,99.00 449.50,99.09 449.75,99.17 450.00,99.23 450.25,99.28 450.50,99.32 450.75,99.36 451.00,99.38 451.25,99.41 451.50,99.42 451.75,99.44 452.00,99.45 452.25,99.46 452.50,99.47 452.75,99.47 453.00,99.48 453.25,99.48 453.50,99.49 453.75,99.49 454.00,99.49 454.25,99.49 454.50,99.49 454.75,99.49 455.00,99.50 455.25,99.50 455.50,99.50 455.75,99.50 456.00,99.50 456.25,99.50 456.50,99.50 456.75,99.50 457.00,99.50 457.25,99.50 457.50,99.50 457.75,99.50 458.00,99.50 458.25,99.50 458.50,99.50 458.75,99.50 459.00,99.50 459.25,99.50 459.50,99.50 459.75,99.50 460.00,99.50 460.25,99.50 460.50,99.50 460.75,99.50 461.00,99.50 461.25,99.50 461.50,99.50 461.75,99.50 462.00,99.50 462.25,99.50 462.50,99.50 462.75,99.50 463.00,99.50 463.25,99.50 463.50,99.50 463.75,99.50 464.00,99.50 464.25,99.50 464.50,99.50 464.75,99.50 465.00,99.50 465.25,99.50 465.50,99.50 465.75,99.50 466.00,99.50 466.25,99.50 466.50,99.50 466.75,99.50 467.00,99.50 467.25,99.50 467.50,99.50 467.75,99.50 468.00,99.50 468.25,99.50 468.50,99.50 468.75,99.50 469.00,99.50 469.25,99.50 469.50,99.50 469.75,99.50 470.00,99.50 470.25,99.50 470.50,99.50" fill="none" stroke="#fb1418" stroke-width="1.8" stroke-linejoin="round" stroke-linecap="round" />
<text x="3.5" y="120" font-size="8.6" font-weight="bold" fill="#000" transform="translate(3.5,120.4) scale(0.92,1) translate(-3.5,-120)">C</text>
<line x1="55.9" y1="126.3" x2="55.9" y2="239.7" stroke="#000" stroke-width="1.3" />
<line x1="52.5" y1="126.5" x2="55.9" y2="126.5" stroke="#999" stroke-width="0.7" />
<text x="51.6" y="130.8" font-size="8.8" text-anchor="end">1 x 10<tspan font-size="6.8" dy="-4.0">9</tspan></text>
<line x1="52.5" y1="152" x2="55.9" y2="152" stroke="#999" stroke-width="0.7" />
<text x="51.6" y="153.6" font-size="8.8" text-anchor="end">8 x 10<tspan font-size="6.8" dy="-4.0">8</tspan></text>
<line x1="52.5" y1="175" x2="55.9" y2="175" stroke="#999" stroke-width="0.7" />
<text x="51.6" y="176.6" font-size="8.8" text-anchor="end">6 x 10<tspan font-size="6.8" dy="-4.0">8</tspan></text>
<line x1="52.5" y1="196.2" x2="55.9" y2="196.2" stroke="#999" stroke-width="0.7" />
<text x="51.6" y="197.79999999999998" font-size="8.8" text-anchor="end">4 x 10<tspan font-size="6.8" dy="-4.0">8</tspan></text>
<line x1="52.5" y1="221.3" x2="55.9" y2="221.3" stroke="#999" stroke-width="0.7" />
<text x="51.6" y="222.9" font-size="8.8" text-anchor="end">2 x 10<tspan font-size="6.8" dy="-4.0">8</tspan></text>
<text x="52.1" y="242" font-size="8.2" text-anchor="end" >0</text>
<text transform="translate(17.4,182) rotate(-90)" font-size="8.5" text-anchor="middle">Relative Abundance</text>
<polyline points="76.40,217.20 199.30,217.20" fill="none" stroke="#000" stroke-width="1.4" stroke-linejoin="round" stroke-linecap="round" />
<polyline points="94.50,196.90 218.60,196.90 178.80,239.60 55.90,239.60 94.50,196.90" fill="none" stroke="#000" stroke-width="1.4" stroke-linejoin="round" stroke-linecap="round" />
<text x="64.6" y="250" font-size="8.5" text-anchor="middle" >2</text>
<text x="91.3" y="250" font-size="8.5" text-anchor="middle" >4</text>
<text x="118.0" y="250" font-size="8.5" text-anchor="middle" >6</text>
<text x="144.7" y="250" font-size="8.5" text-anchor="middle" >8</text>
<text x="171.39999999999998" y="250" font-size="8.5" text-anchor="middle" >10</text>
<text x="109.1" y="258.3" font-size="8.5" text-anchor="middle" >Time (min)</text>
<text x="218.6" y="199.2" font-size="8.5" text-anchor="start" >Glycine</text>
<text x="218.6" y="209.5" font-size="8.5" text-anchor="start" >betaine</text>
<text x="203.2" y="222.3" font-size="8.5" text-anchor="start" >Homarine</text>
<text x="183.7" y="244" font-size="8.5" text-anchor="start" >Cysteinolic acid</text>
<polyline points="99.50,217.20 104.00,217.20 104.25,217.20 104.50,217.20 104.75,217.20 105.00,217.20 105.25,217.20 105.50,217.20 105.75,217.20 106.00,217.20 106.25,217.20 106.50,217.20 106.75,217.20 107.00,217.20 107.25,217.19 107.50,217.16 107.75,217.02 108.00,216.56 108.25,215.28 108.50,212.38 108.75,207.04 109.00,199.17 109.25,190.33 109.50,183.52 109.70,181.60 109.75,181.72 110.00,185.78 110.25,193.81 110.50,202.56 110.75,209.50 111.00,213.80 111.25,214.74 111.50,215.03 111.75,215.28 112.00,215.51 112.25,215.71 112.50,215.88 112.75,216.04 113.00,216.17 113.25,216.29 113.50,216.40 113.75,216.50 114.00,216.58 114.25,216.65 114.50,216.72 114.75,216.77 115.00,216.82 115.25,216.87 115.50,216.91 115.75,216.94 116.00,216.97 116.25,217.00 116.50,217.02 116.75,217.04 117.00,217.06 117.25,217.08 117.50,217.09 117.75,217.10 118.00,217.12 118.25,217.13 118.50,217.13 118.75,217.14 119.00,217.15 119.25,217.15 119.50,217.16 119.75,217.16 120.00,217.17 120.25,217.17 120.50,217.18 120.75,217.18 121.00,217.18 121.25,217.18 121.50,217.19 121.75,217.19 122.00,217.19 122.25,217.19 122.50,217.19 122.75,217.19 123.00,217.19 123.25,217.19 123.50,217.19 123.75,217.20 124.00,217.20 124.25,217.20 124.50,217.20 124.75,217.20 125.00,217.20 125.25,217.20 125.50,217.20 125.75,217.20 126.00,217.20 126.25,217.20 126.50,217.20 126.75,217.20 127.00,217.20 127.25,217.20 127.50,217.20 127.75,217.20 128.00,217.20 128.25,217.20 128.50,217.20 128.75,217.20 129.00,217.20 129.25,217.20 129.50,217.20 129.75,217.20 130.00,217.20 130.25,217.20 130.50,217.20 130.75,217.20 131.00,217.20 131.25,217.20 131.50,217.20 131.75,217.20 132.00,217.20 132.25,217.20 132.50,217.20 132.75,217.20 133.00,217.20 133.25,217.20 133.50,217.20 133.75,217.20 134.00,217.20 134.25,217.20 134.50,217.20 134.75,217.20 135.00,217.20 135.25,217.20 135.50,217.20 135.75,217.20 136.00,217.20 136.25,217.20 136.50,217.20 136.75,217.20 137.00,217.20 137.25,217.20 137.50,217.20 137.75,217.20 138.00,217.20 138.25,217.20 138.50,217.20 138.75,217.20 139.00,217.20 139.25,217.20 139.50,217.20 139.75,217.20 140.00,217.20 140.25,217.20 140.50,217.20 140.75,217.20 141.00,217.20 141.25,217.20 141.50,217.20 141.75,217.20 142.00,217.20 142.25,217.20 142.50,217.20 142.75,217.20 143.00,217.20 143.25,217.20 143.50,217.20 143.75,217.20 144.00,217.20 144.25,217.20 144.50,217.20 144.75,217.20 145.00,217.20 145.25,217.20 145.50,217.20 145.75,217.20 146.00,217.20 146.25,217.20 146.50,217.20 146.75,217.20 147.00,217.20 147.25,217.20 147.50,217.20 147.75,217.20 148.00,217.20 148.25,217.20 148.50,217.20 148.75,217.20 149.00,217.20 149.25,217.20 149.50,217.20 149.75,217.20 150.00,217.20 150.25,217.20 150.50,217.20 150.75,217.20 151.00,217.20 151.25,217.20 151.50,217.20 151.75,217.20 152.00,217.20 152.25,217.20 152.50,217.20 152.75,217.20 153.00,217.20 153.25,217.20 153.50,217.20 153.75,217.20 154.00,217.20 154.25,217.20 154.50,217.20 154.75,217.20 155.00,217.20 155.25,217.20 155.50,217.20 155.75,217.20 156.00,217.20 156.25,217.20 156.50,217.20 156.75,217.20 157.00,217.20 157.25,217.20 157.50,217.20 157.75,217.20 158.00,217.20 158.25,217.20 158.50,217.20 158.75,217.20 159.00,217.20 159.25,217.20 159.50,217.20 159.75,217.20 160.00,217.20 160.25,217.20 160.50,217.20 160.75,217.20 161.00,217.20 161.25,217.20 161.50,217.20 161.75,217.20" fill="none" stroke="#1766e8" stroke-width="1.8" stroke-linejoin="round" stroke-linecap="round" />
<polyline points="101.70,239.20 122.00,239.20 122.25,239.20 122.50,239.20 122.75,239.20 123.00,239.20 123.25,239.20 123.50,239.20 123.75,239.20 124.00,239.20 124.25,239.20 124.50,239.20 124.75,239.20 125.00,239.20 125.25,239.20 125.50,239.20 125.75,239.20 126.00,239.20 126.25,239.18 126.50,239.04 126.75,238.22 127.00,235.03 127.25,227.23 127.50,215.95 127.75,208.64 127.80,208.40 128.00,212.02 128.25,222.84 128.50,232.54 128.75,237.36 129.00,238.09 129.25,238.33 129.50,238.52 129.75,238.67 130.00,238.79 130.25,238.88 130.50,238.95 130.75,239.01 131.00,239.05 131.25,239.08 131.50,239.11 131.75,239.13 132.00,239.14 132.25,239.16 132.50,239.17 132.75,239.17 133.00,239.18 133.25,239.18 133.50,239.19 133.75,239.19 134.00,239.19 134.25,239.19 134.50,239.20 134.75,239.20 135.00,239.20 135.25,239.20 135.50,239.20 135.75,239.20 136.00,239.20 136.25,239.20 136.50,239.20 136.75,239.20 137.00,239.20 137.25,239.20 137.50,239.20 137.75,239.20 138.00,239.20 138.25,239.20 138.50,239.20 138.75,239.20 139.00,239.20 139.25,239.20 139.50,239.20 139.75,239.20 140.00,239.20 140.25,239.20 140.50,239.20 140.75,239.20 141.00,239.20 141.25,239.20 141.50,239.20 141.75,239.20 142.00,239.20 142.25,239.20 142.50,239.20 142.75,239.20 143.00,239.20 143.25,239.20 143.50,239.20 143.75,239.20 144.00,239.20 144.25,239.20 144.50,239.20 144.75,239.20 145.00,239.20 145.25,239.20 145.50,239.20 145.75,239.20 146.00,239.20 146.25,239.20 146.50,239.20 146.75,239.20 147.00,239.20 147.25,239.20 147.50,239.20 147.75,239.20 148.00,239.20 148.25,239.20 148.50,239.20 148.75,239.20 149.00,239.20 149.25,239.20 149.50,239.20 149.75,239.20 150.00,239.20 150.25,239.20 150.50,239.20 150.75,239.20 151.00,239.20 151.25,239.20 151.50,239.20 151.75,239.20 152.00,239.20 152.25,239.20 152.50,239.20 152.75,239.20 153.00,239.20 153.25,239.20 153.50,239.20 153.75,239.20 154.00,239.20 154.25,239.20 154.50,239.20 154.75,239.20 155.00,239.20 155.25,239.20 155.50,239.20 155.75,239.20 156.00,239.20 156.25,239.20 156.50,239.20 156.75,239.20 157.00,239.20 157.25,239.20 157.50,239.20 157.75,239.20 158.00,239.20 158.25,239.20 158.50,239.20 158.75,239.20 159.00,239.20 159.25,239.20 159.50,239.20 159.75,239.20 160.00,239.20 160.25,239.20 160.50,239.20 160.75,239.20 161.00,239.20 161.25,239.20 161.50,239.20 161.75,239.20 162.00,239.20 162.25,239.20 162.50,239.20 162.75,239.20 163.00,239.20 163.25,239.20 163.50,239.20 163.75,239.20 164.00,239.20 164.25,239.20 164.50,239.20 164.75,239.20 165.00,239.20 165.25,239.20 165.50,239.20 165.75,239.20 166.00,239.20 166.25,239.20 166.50,239.20 166.75,239.20 167.00,239.20 167.25,239.20 167.50,239.20 167.75,239.20 168.00,239.20 168.25,239.20 168.50,239.20 168.75,239.20 169.00,239.20 169.25,239.20 169.50,239.20" fill="none" stroke="#fb1418" stroke-width="1.8" stroke-linejoin="round" stroke-linecap="round" />
<polyline points="140.00,196.90 150.00,196.90 152.30,196.30 154.00,196.90 155.00,196.90 155.20,196.90 155.40,196.90 155.60,196.90 155.80,196.90 156.00,196.90 156.20,196.88 156.40,196.62 156.60,194.86 156.80,187.25 157.00,167.59 157.20,139.81 157.40,125.60 157.60,134.10 157.80,141.49 158.00,147.93 158.20,153.54 158.40,158.45 158.60,162.73 158.80,166.49 159.00,169.77 159.20,172.66 159.40,175.20 159.60,177.44 159.80,179.41 160.00,181.15 160.20,182.70 160.40,184.07 160.60,185.28 160.80,186.36 161.00,187.33 161.20,188.19 161.40,188.96 161.60,189.65 161.80,190.27 162.00,190.83 162.20,191.34 162.40,191.79 162.60,192.21 162.80,192.58 163.00,192.92 163.20,193.23 163.40,193.51 163.60,193.77 163.80,194.00 164.00,194.22 164.20,194.42 164.40,194.60 164.60,194.76 164.80,194.92 165.00,195.06 165.20,195.19 165.40,195.31 165.60,195.42 165.80,195.52 166.00,195.62 166.20,195.70 166.40,195.79 166.60,195.86 166.80,195.93 167.00,196.00 167.20,196.06 167.40,196.11 167.60,196.17 167.80,196.22 168.00,196.26 168.20,196.30 168.40,196.34 168.60,196.38 168.80,196.41 169.00,196.45 169.20,196.48 169.40,196.50 169.60,196.53 169.80,196.55 170.00,196.58 170.20,196.60 170.40,196.62 170.60,196.64 170.80,196.65 171.00,196.67 171.20,196.68 171.40,196.70 171.60,196.71 171.80,196.72 172.00,196.73 172.20,196.75 172.40,196.76 172.60,196.76 172.80,196.77 173.00,196.78 173.20,196.79 173.40,196.80 173.60,196.80 173.80,196.81 174.00,196.82 174.20,196.82 174.40,196.83 174.60,196.83 174.80,196.84 175.00,196.84 175.20,196.84 175.40,196.85 175.60,196.85 175.80,196.85 176.00,196.86 176.20,196.86 176.40,196.86 176.60,196.86 176.80,196.87 177.00,196.87 177.20,196.87 177.40,196.87 177.60,196.87 177.80,196.88 178.00,196.88" fill="none" stroke="#000" stroke-width="1.1" stroke-linejoin="round" stroke-linecap="round" />
<text x="286.5" y="120.8" font-size="8.6" font-weight="bold" fill="#000" transform="translate(286.5,121.2) scale(0.92,1) translate(-286.5,-120.8)">D</text>
<line x1="332.8" y1="126.3" x2="332.8" y2="240.3" stroke="#000" stroke-width="1.3" />
<line x1="329.40000000000003" y1="126.5" x2="332.8" y2="126.5" stroke="#999" stroke-width="0.7" />
<text x="328.5" y="130.8" font-size="8.8" text-anchor="end">1 x 10<tspan font-size="6.8" dy="-4.0">9</tspan></text>
<line x1="329.40000000000003" y1="152" x2="332.8" y2="152" stroke="#999" stroke-width="0.7" />
<text x="328.5" y="153.6" font-size="8.8" text-anchor="end">8 x 10<tspan font-size="6.8" dy="-4.0">8</tspan></text>
<line x1="329.40000000000003" y1="175" x2="332.8" y2="175" stroke="#999" stroke-width="0.7" />
<text x="328.5" y="176.6" font-size="8.8" text-anchor="end">6 x 10<tspan font-size="6.8" dy="-4.0">8</tspan></text>
<line x1="329.40000000000003" y1="196.2" x2="332.8" y2="196.2" stroke="#999" stroke-width="0.7" />
<text x="328.5" y="197.79999999999998" font-size="8.8" text-anchor="end">4 x 10<tspan font-size="6.8" dy="-4.0">8</tspan></text>
<line x1="329.40000000000003" y1="221.3" x2="332.8" y2="221.3" stroke="#999" stroke-width="0.7" />
<text x="328.5" y="222.9" font-size="8.8" text-anchor="end">2 x 10<tspan font-size="6.8" dy="-4.0">8</tspan></text>
<text x="328.8" y="242.3" font-size="8.2" text-anchor="end" >0</text>
<text transform="translate(295,183.3) rotate(-90)" font-size="8.5" text-anchor="middle">Relative Abundance</text>
<polyline points="359.20,211.20 482.00,211.20" fill="none" stroke="#000" stroke-width="1.4" stroke-linejoin="round" stroke-linecap="round" />
<polyline points="346.50,225.10 468.50,225.10" fill="none" stroke="#000" stroke-width="1.4" stroke-linejoin="round" stroke-linecap="round" />
<polyline points="371.00,197.80 492.40,197.80 455.00,239.90 332.80,239.90 371.00,197.80" fill="none" stroke="#000" stroke-width="1.4" stroke-linejoin="round" stroke-linecap="round" />
<text x="341.0" y="249.2" font-size="8.5" text-anchor="middle" >2</text>
<text x="367.75" y="249.2" font-size="8.5" text-anchor="middle" >4</text>
<text x="394.5" y="249.2" font-size="8.5" text-anchor="middle" >6</text>
<text x="421.25" y="249.2" font-size="8.5" text-anchor="middle" >8</text>
<text x="448.0" y="249.2" font-size="8.5" text-anchor="middle" >10</text>
<text x="395.3" y="258.9" font-size="8.5" text-anchor="middle" >Time (min)</text>
<text x="494.4" y="202" font-size="8.5" text-anchor="start" >Ectoine</text>
<text x="483.6" y="214.4" font-size="8.5" text-anchor="start" >Glycine betaine</text>
<text x="472" y="229" font-size="8.5" text-anchor="start" >Homarine</text>
<text x="459" y="242.4" font-size="8.5" text-anchor="start" >Cysteinolic acid</text>
<polyline points="428.30,197.50 440.00,197.50 440.25,197.50 440.50,197.50 440.75,197.50 441.00,197.50 441.25,197.50 441.50,197.50 441.75,197.50 442.00,197.50 442.25,197.50 442.50,197.50 442.75,197.50 443.00,197.50 443.25,197.50 443.50,197.50 443.75,197.50 444.00,197.50 444.25,197.50 444.50,197.50 444.75,197.50 445.00,197.50 445.25,197.50 445.50,197.50 445.75,197.50 446.00,197.50 446.25,197.50 446.50,197.50 446.75,197.50 447.00,197.50 447.25,197.50 447.50,197.46 447.75,197.13 448.00,195.34 448.25,189.03 448.50,175.02 448.75,157.11 449.00,148.40 449.25,157.11 449.50,175.02 449.75,189.03 450.00,195.34 450.25,196.09 450.50,196.40 450.75,196.65 451.00,196.84 451.25,196.98 451.50,197.10 451.75,197.19 452.00,197.26 452.25,197.31 452.50,197.35 452.75,197.38 453.00,197.41 453.25,197.43 453.50,197.45 453.75,197.46 454.00,197.47 454.25,197.47 454.50,197.48 454.75,197.48 455.00,197.49 455.25,197.49 455.50,197.49 455.75,197.49 456.00,197.50 456.25,197.50 456.50,197.50 456.75,197.50 457.00,197.50 457.25,197.50 457.50,197.50 457.75,197.50 458.00,197.50 458.25,197.50 458.50,197.50 458.75,197.50 459.00,197.50 459.25,197.50 459.50,197.50 459.75,197.50 460.00,197.50 460.25,197.50 460.50,197.50 460.75,197.50 461.00,197.50 461.25,197.50 461.50,197.50 461.75,197.50 462.00,197.50 462.25,197.50 462.50,197.50 462.75,197.50 463.00,197.50 463.25,197.50 463.50,197.50 463.75,197.50 464.00,197.50 464.25,197.50 464.50,197.50 464.75,197.50 465.00,197.50 465.25,197.50 465.50,197.50 465.75,197.50 466.00,197.50 466.25,197.50 466.50,197.50 466.75,197.50 467.00,197.50 467.25,197.50 467.50,197.50 467.75,197.50 468.00,197.50 468.25,197.50 468.50,197.50 468.75,197.50 469.00,197.50 469.25,197.50 469.50,197.50 469.75,197.50 470.00,197.50 470.25,197.50 470.50,197.50 470.75,197.50 471.00,197.50 471.25,197.50 471.50,197.50 471.75,197.50 472.00,197.50 472.25,197.50 472.50,197.50 472.75,197.50 473.00,197.50 473.25,197.50 473.50,197.50 473.75,197.50 474.00,197.50 474.25,197.50 474.50,197.50 474.75,197.50 475.00,197.50 475.25,197.50 475.50,197.50 475.75,197.50 476.00,197.50 476.25,197.50 476.50,197.50 476.75,197.50 477.00,197.50 477.25,197.50 477.50,197.50 477.75,197.50 478.00,197.50 478.25,197.50 478.50,197.50 478.75,197.50 479.00,197.50 479.25,197.50 479.50,197.50 479.75,197.50 480.00,197.50 480.25,197.50 480.50,197.50 480.75,197.50 481.00,197.50" fill="none" stroke="#cf6a12" stroke-width="1.8" stroke-linejoin="round" stroke-linecap="round" />
<polyline points="392.00,211.20 414.00,211.20 414.20,211.20 414.40,211.20 414.60,211.20 414.80,211.20 415.00,211.20 415.20,211.20 415.40,211.20 415.60,211.20 415.80,211.20 416.00,211.19 416.20,211.03 416.40,209.94 416.60,205.25 416.80,193.11 417.00,175.97 417.20,167.20 417.40,175.21 417.60,181.56 417.80,186.61 418.00,190.63 418.20,193.86 418.40,196.46 418.60,198.57 418.80,200.28 419.00,201.68 419.20,202.84 419.40,203.81 419.60,204.61 419.80,205.30 420.00,205.88 420.20,206.38 420.40,206.81 420.60,207.19 420.80,207.52 421.00,207.82 421.20,208.08 421.40,208.31 421.60,208.53 421.80,208.72 422.00,208.90 422.20,209.06 422.40,209.21 422.60,209.34 422.80,209.47 423.00,209.59 423.20,209.69 423.40,209.79 423.60,209.89 423.80,209.97 424.00,210.05 424.20,210.13 424.40,210.20 424.60,210.26 424.80,210.32 425.00,210.38 425.20,210.43 425.40,210.48 425.60,210.53 425.80,210.57 426.00,210.61 426.20,210.65 426.40,210.69 426.60,210.72 426.80,210.75 427.00,210.78 427.20,210.81 427.40,210.83 427.60,210.86 427.80,210.88 428.00,210.90 428.20,210.92 428.40,210.94 428.60,210.95 428.80,210.97 429.00,210.98 429.20,211.00 429.40,211.01 429.60,211.02 429.80,211.04 430.00,211.05 430.20,211.06 430.40,211.06 430.60,211.07 430.80,211.08 431.00,211.09 431.20,211.10 431.40,211.10 431.60,211.11 431.80,211.12 432.00,211.12 432.20,211.13 432.40,211.13 432.60,211.14 432.80,211.14 433.00,211.14 433.20,211.15 433.40,211.15 433.60,211.15 433.80,211.16 434.00,211.16 434.20,211.16 434.40,211.16 434.60,211.17 434.80,211.17 435.00,211.17 435.20,211.17 435.40,211.17 435.60,211.18 435.80,211.18 436.00,211.18 436.20,211.18 436.40,211.18 436.60,211.18 436.80,211.18 437.00,211.19 437.20,211.19 437.40,211.19 437.60,211.19 437.80,211.19 438.00,211.19 438.20,211.19 438.40,211.19 438.60,211.19 438.80,211.19 439.00,211.19 439.20,211.19 439.40,211.19 439.60,211.19 439.80,211.19 440.00,211.19" fill="none" stroke="#000" stroke-width="1.1" stroke-linejoin="round" stroke-linecap="round" />
<polyline points="370.40,225.10 375.00,225.10 375.25,225.10 375.50,225.10 375.75,225.10 376.00,225.10 376.25,225.10 376.50,225.10 376.75,225.10 377.00,225.10 377.25,225.10 377.50,225.10 377.75,225.10 378.00,225.10 378.25,225.09 378.50,225.06 378.75,224.91 379.00,224.31 379.25,222.55 379.50,218.68 379.75,212.49 380.00,205.81 380.25,202.12 380.30,202.00 380.50,203.78 380.75,209.69 381.00,216.43 381.25,221.30 381.50,223.46 381.75,223.70 382.00,223.90 382.25,224.08 382.50,224.22 382.75,224.35 383.00,224.46 383.25,224.55 383.50,224.63 383.75,224.70 384.00,224.76 384.25,224.81 384.50,224.85 384.75,224.89 385.00,224.92 385.25,224.94 385.50,224.97 385.75,224.99 386.00,225.00 386.25,225.02 386.50,225.03 386.75,225.04 387.00,225.05 387.25,225.05 387.50,225.06 387.75,225.07 388.00,225.07 388.25,225.08 388.50,225.08 388.75,225.08 389.00,225.08 389.25,225.09 389.50,225.09 389.75,225.09 390.00,225.09 390.25,225.09 390.50,225.09 390.75,225.09 391.00,225.10 391.25,225.10 391.50,225.10 391.75,225.10 392.00,225.10 392.25,225.10 392.50,225.10 392.75,225.10 393.00,225.10 393.25,225.10 393.50,225.10 393.75,225.10 394.00,225.10 394.25,225.10 394.50,225.10 394.75,225.10 395.00,225.10 395.25,225.10 395.50,225.10 395.75,225.10 396.00,225.10 396.25,225.10 396.50,225.10 396.75,225.10 397.00,225.10 397.25,225.10 397.50,225.10 397.75,225.10 398.00,225.10 398.25,225.10 398.50,225.10 398.75,225.10 399.00,225.10 399.25,225.10 399.50,225.10 399.75,225.10 400.00,225.10 400.25,225.10 400.50,225.10 400.75,225.10 401.00,225.10 401.25,225.10 401.50,225.10 401.75,225.10 402.00,225.10 402.25,225.10 402.50,225.10 402.75,225.10 403.00,225.10 403.25,225.10 403.50,225.10 403.75,225.10 404.00,225.10 404.25,225.10 404.50,225.10 404.75,225.10 405.00,225.10 405.25,225.10 405.50,225.10 405.75,225.10 406.00,225.10 406.25,225.10 406.50,225.10 406.75,225.10 407.00,225.10 407.25,225.10 407.50,225.10 407.75,225.10 408.00,225.10 408.25,225.10 408.50,225.10 408.75,225.10 409.00,225.10 409.25,225.10 409.50,225.10 409.75,225.10 410.00,225.10 410.25,225.10 410.50,225.10 410.75,225.10 411.00,225.10 411.25,225.10 411.50,225.10 411.75,225.10 412.00,225.10 412.25,225.10 412.50,225.10 412.75,225.10 413.00,225.10 413.25,225.10 413.50,225.10 413.75,225.10 414.00,225.10 414.25,225.10 414.50,225.10 414.75,225.10 415.00,225.10 415.25,225.10 415.50,225.10 415.75,225.10 416.00,225.10 416.25,225.10 416.50,225.10 416.75,225.10 417.00,225.10 417.25,225.10 417.50,225.10 417.75,225.10 418.00,225.10 418.25,225.10 418.50,225.10 418.75,225.10 419.00,225.10 419.25,225.10 419.50,225.10 419.75,225.10 420.00,225.10 420.25,225.10 420.50,225.10 420.75,225.10 421.00,225.10 421.25,225.10 421.50,225.10 421.75,225.10 422.00,225.10 422.25,225.10 422.50,225.10 422.75,225.10 423.00,225.10 423.25,225.10 423.50,225.10 423.75,225.10 424.00,225.10 424.25,225.10 424.50,225.10 424.75,225.10 425.00,225.10 425.25,225.10 425.50,225.10 425.75,225.10 426.00,225.10 426.25,225.10 426.50,225.10 426.75,225.10 427.00,225.10 427.25,225.10 427.50,225.10 427.75,225.10 428.00,225.10 428.25,225.10 428.50,225.10 428.75,225.10 429.00,225.10 429.25,225.10 429.50,225.10 429.75,225.10 430.00,225.10" fill="none" stroke="#1766e8" stroke-width="1.8" stroke-linejoin="round" stroke-linecap="round" />
<polyline points="380.00,239.20 400.00,239.20 400.25,239.20 400.50,239.20 400.75,239.20 401.00,239.20 401.25,239.20 401.50,239.20 401.75,239.20 402.00,239.20 402.25,239.20 402.50,239.20 402.75,239.20 403.00,239.20 403.25,239.20 403.50,239.19 403.75,239.12 404.00,238.61 404.25,236.52 404.50,231.29 404.75,224.06 405.00,220.40 405.25,224.06 405.50,231.29 405.75,236.52 406.00,238.46 406.25,238.64 406.50,238.77 406.75,238.88 407.00,238.96 407.25,239.01 407.50,239.06 407.75,239.09 408.00,239.12 408.25,239.14 408.50,239.15 408.75,239.17 409.00,239.17 409.25,239.18 409.50,239.18 409.75,239.19 410.00,239.19 410.25,239.19 410.50,239.19 410.75,239.20 411.00,239.20 411.25,239.20 411.50,239.20 411.75,239.20 412.00,239.20 412.25,239.20 412.50,239.20 412.75,239.20 413.00,239.20 413.25,239.20 413.50,239.20 413.75,239.20 414.00,239.20 414.25,239.20 414.50,239.20 414.75,239.20 415.00,239.20 415.25,239.20 415.50,239.20 415.75,239.20 416.00,239.20 416.25,239.20 416.50,239.20 416.75,239.20 417.00,239.20 417.25,239.20 417.50,239.20 417.75,239.20 418.00,239.20 418.25,239.20 418.50,239.20 418.75,239.20 419.00,239.20 419.25,239.20 419.50,239.20 419.75,239.20 420.00,239.20 420.25,239.20 420.50,239.20 420.75,239.20 421.00,239.20 421.25,239.20 421.50,239.20 421.75,239.20 422.00,239.20 422.25,239.20 422.50,239.20 422.75,239.20 423.00,239.20 423.25,239.20 423.50,239.20 423.75,239.20 424.00,239.20 424.25,239.20 424.50,239.20 424.75,239.20 425.00,239.20 425.25,239.20 425.50,239.20 425.75,239.20 426.00,239.20 426.25,239.20 426.50,239.20 426.75,239.20 427.00,239.20 427.25,239.20 427.50,239.20 427.75,239.20 428.00,239.20 428.25,239.20 428.50,239.20 428.75,239.20 429.00,239.20 429.25,239.20 429.50,239.20 429.75,239.20 430.00,239.20 430.25,239.20 430.50,239.20 430.75,239.20 431.00,239.20 431.25,239.20 431.50,239.20 431.75,239.20 432.00,239.20 432.25,239.20 432.50,239.20 432.75,239.20 433.00,239.20 433.25,239.20 433.50,239.20 433.75,239.20 434.00,239.20 434.25,239.20 434.50,239.20 434.75,239.20 435.00,239.20 435.25,239.20 435.50,239.20 435.75,239.20 436.00,239.20 436.25,239.20 436.50,239.20 436.75,239.20 437.00,239.20 437.25,239.20 437.50,239.20 437.75,239.20 438.00,239.20 438.25,239.20 438.50,239.20 438.75,239.20 439.00,239.20 439.25,239.20 439.50,239.20 439.75,239.20 440.00,239.20 440.25,239.20 440.50,239.20 440.75,239.20 441.00,239.20 441.25,239.20 441.50,239.20 441.75,239.20 442.00,239.20 442.25,239.20 442.50,239.20 442.75,239.20 443.00,239.20 443.25,239.20 443.50,239.20 443.75,239.20 444.00,239.20 444.25,239.20 444.50,239.20 444.75,239.20 445.00,239.20 445.25,239.20 445.50,239.20" fill="none" stroke="#fb1418" stroke-width="1.8" stroke-linejoin="round" stroke-linecap="round" />
<text x="3.2" y="266.5" font-size="8.6" font-weight="bold" fill="#000" transform="translate(3.2,266.9) scale(0.92,1) translate(-3.2,-266.5)">E</text>
<line x1="37.1" y1="298.4" x2="37.1" y2="371.3" stroke="#000" stroke-width="1.3" />
<line x1="33.9" y1="298.6" x2="37.1" y2="298.6" stroke="#777" stroke-width="0.7" />
<text x="33.2" y="302.1" font-size="8.7" text-anchor="end" >100</text>
<line x1="33.9" y1="313.2" x2="37.1" y2="313.2" stroke="#777" stroke-width="0.7" />
<text x="32.0" y="316.7" font-size="8.7" text-anchor="end" >80</text>
<line x1="33.9" y1="328.4" x2="37.1" y2="328.4" stroke="#777" stroke-width="0.7" />
<text x="32.0" y="332.0" font-size="8.7" text-anchor="end" >60</text>
<line x1="33.9" y1="343.7" x2="37.1" y2="343.7" stroke="#777" stroke-width="0.7" />
<text x="32.0" y="347.3" font-size="8.7" text-anchor="end" >40</text>
<line x1="33.9" y1="360" x2="37.1" y2="360" stroke="#777" stroke-width="0.7" />
<text x="32.0" y="363.6" font-size="8.7" text-anchor="end" >20</text>
<line x1="33.9" y1="371.2" x2="37.1" y2="371.2" stroke="#777" stroke-width="0.7" />
<text x="32.0" y="374.8" font-size="8.7" text-anchor="end" >0</text>
<line x1="37.1" y1="371.3" x2="116.7" y2="371.3" stroke="#000" stroke-width="1.3" />
<line x1="44.7" y1="371.3" x2="44.7" y2="370" stroke="#444" stroke-width="0.6" />
<line x1="53.7" y1="371.3" x2="53.7" y2="370" stroke="#444" stroke-width="0.6" />
<line x1="62.7" y1="371.3" x2="62.7" y2="370" stroke="#444" stroke-width="0.6" />
<line x1="70.9" y1="371.3" x2="70.9" y2="370" stroke="#444" stroke-width="0.6" />
<line x1="87.3" y1="371.3" x2="87.3" y2="370" stroke="#444" stroke-width="0.6" />
<line x1="96" y1="371.3" x2="96" y2="370" stroke="#444" stroke-width="0.6" />
<line x1="104.5" y1="371.3" x2="104.5" y2="370" stroke="#444" stroke-width="0.6" />
<text x="39.8" y="381.2" font-size="8.5" text-anchor="middle" >75</text>
<text x="76.6" y="381.2" font-size="8.5" text-anchor="middle" >150</text>
<text x="114" y="381.2" font-size="8.5" text-anchor="middle" >200</text>
<text x="77.5" y="389.7" font-size="9" text-anchor="middle" font-style="italic">m/z</text>
<text transform="translate(14.8,327.6) rotate(-90)" font-size="8.5" text-anchor="middle">Relative intensity (%)</text>
<text x="72.5" y="298.5" font-size="8.5" text-anchor="middle" >156.03232</text>
<line x1="79.2" y1="300.8" x2="79.2" y2="371.3" stroke="#000" stroke-width="1.2" />
<line x1="80.7" y1="367" x2="80.7" y2="371.3" stroke="#000" stroke-width="0.8" />
<line x1="93.6" y1="365" x2="93.6" y2="371.3" stroke="#000" stroke-width="1.1" />
<line x1="121.6" y1="283" x2="121.6" y2="355.9" stroke="#000" stroke-width="1.3" />
<line x1="119.8" y1="283" x2="121.6" y2="283" stroke="#555" stroke-width="0.7" />
<text x="120.2" y="285.9" font-size="8.2" text-anchor="end" >100</text>
<line x1="119.8" y1="297.5" x2="121.6" y2="297.5" stroke="#555" stroke-width="0.7" />
<text x="119.3" y="300.4" font-size="8.2" text-anchor="end" >80</text>
<line x1="119.8" y1="313.1" x2="121.6" y2="313.1" stroke="#555" stroke-width="0.7" />
<text x="119.3" y="316.0" font-size="8.2" text-anchor="end" >60</text>
<line x1="119.8" y1="328.6" x2="121.6" y2="328.6" stroke="#555" stroke-width="0.7" />
<text x="119.3" y="331.5" font-size="8.2" text-anchor="end" >40</text>
<line x1="119.8" y1="343.9" x2="121.6" y2="343.9" stroke="#555" stroke-width="0.7" />
<text x="119.3" y="346.79999999999995" font-size="8.2" text-anchor="end" >20</text>
<line x1="119.8" y1="355.9" x2="121.6" y2="355.9" stroke="#555" stroke-width="0.7" />
<text x="119.3" y="358.79999999999995" font-size="8.2" text-anchor="end" >0</text>
<line x1="121.6" y1="355.9" x2="199.8" y2="355.9" stroke="#000" stroke-width="1.3" />
<text transform="translate(104.2,315.4) rotate(-90)" font-size="7.6" text-anchor="middle">Relative intensity (%)</text>
<text x="150.6" y="291.7" font-size="8.5" text-anchor="middle" >138.02196</text>
<text x="146.8" y="333.7" font-size="8.5" text-anchor="middle" >58.06536</text>
<text x="207.1" y="341.4" font-size="8.5" text-anchor="middle" >156.03232</text>
<text x="132.8" y="364.3" font-size="8.5" text-anchor="middle" >60</text>
<text x="199.8" y="364.3" font-size="8.5" text-anchor="middle" >180</text>
<text x="163" y="368" font-size="9" text-anchor="middle" font-style="italic">m/z</text>
<line x1="124.6" y1="326.7" x2="124.6" y2="355.9" stroke="#000" stroke-width="1.1" />
<line x1="125.6" y1="333.7" x2="125.6" y2="355.9" stroke="#000" stroke-width="1.1" />
<line x1="126.5" y1="351.5" x2="126.5" y2="355.9" stroke="#000" stroke-width="1" />
<line x1="133.2" y1="351.5" x2="133.2" y2="355.9" stroke="#000" stroke-width="0.8" />
<line x1="135.5" y1="351.5" x2="135.5" y2="355.9" stroke="#000" stroke-width="0.8" />
<line x1="161.4" y1="353.4" x2="161.4" y2="355.9" stroke="#000" stroke-width="0.8" />
<line x1="174.6" y1="284.1" x2="174.6" y2="355.9" stroke="#000" stroke-width="1.2" />
<line x1="175.6" y1="353.4" x2="175.6" y2="355.9" stroke="#000" stroke-width="0.8" />
<line x1="185.7" y1="332.4" x2="185.7" y2="355.9" stroke="#000" stroke-width="1.2" />
<line x1="186.6" y1="347.7" x2="186.6" y2="355.9" stroke="#000" stroke-width="1" />
<text x="220" y="275" font-size="8.5" text-anchor="middle" >138.02</text>
<text x="230.6" y="327" font-size="8.5" text-anchor="middle" >58.06</text>
<polyline points="198.20,276.60 235.40,276.60 235.40,300.10" fill="none" stroke="#000" stroke-width="1.2" stroke-linejoin="round" stroke-linecap="round" />
<polyline points="210.20,286.20 210.20,318.30 243.70,318.30" fill="none" stroke="#000" stroke-width="1.2" stroke-linejoin="round" stroke-linecap="round" />
<text x="184.3" y="300.8" font-size="9.7" text-anchor="middle" >HO</text>
<text x="201.5" y="300.8" font-size="9.7" text-anchor="middle" >S</text>
<text x="201.7" y="288.3" font-size="9.7" text-anchor="middle" >O</text>
<text x="201.7" y="314.2" font-size="9.7" text-anchor="middle" >O</text>
<text x="252.9" y="300.8" font-size="9.9" text-anchor="middle" >OH</text>
<text x="222.6" y="314.8" font-size="9.7">NH<tspan font-size="7.2" dy="2">2</tspan></text>
<line x1="191.5" y1="296.8" x2="196.5" y2="296.8" stroke="#000" stroke-width="0.8" />
<line x1="200.5" y1="288.8" x2="200.5" y2="293" stroke="#000" stroke-width="0.8" />
<line x1="203" y1="288.8" x2="203" y2="293" stroke="#000" stroke-width="0.8" />
<line x1="200.5" y1="301.5" x2="200.5" y2="306" stroke="#000" stroke-width="0.8" />
<line x1="203" y1="301.5" x2="203" y2="306" stroke="#000" stroke-width="0.8" />
<polyline points="205.60,295.50 211.40,289.80 218.80,289.80 224.60,295.60 234.60,289.80 242.80,294.50" fill="none" stroke="#000" stroke-width="0.8" stroke-linejoin="round" stroke-linecap="round" />
<line x1="224.6" y1="295.6" x2="224.6" y2="303.9" stroke="#000" stroke-width="0.8" />
<text x="287.3" y="268.1" font-size="8.6" font-weight="bold" fill="#000" transform="translate(287.3,268.5) scale(0.92,1) translate(-287.3,-268.1)">F</text>
<line x1="333.5" y1="268.4" x2="333.5" y2="369.8" stroke="#000" stroke-width="1.3" />
<line x1="329.0" y1="268.4" x2="333.5" y2="268.4" stroke="#555" stroke-width="0.7" />
<text x="328.6" y="271.7" font-size="8.7" text-anchor="end">8 x 10<tspan font-size="7" dy="-4.1">7</tspan></text>
<line x1="329.0" y1="293.2" x2="333.5" y2="293.2" stroke="#555" stroke-width="0.7" />
<text x="328.6" y="295.3" font-size="8.7" text-anchor="end">6 x 10<tspan font-size="7" dy="-4.1">7</tspan></text>
<line x1="329.0" y1="317.4" x2="333.5" y2="317.4" stroke="#555" stroke-width="0.7" />
<text x="328.6" y="319.3" font-size="8.7" text-anchor="end">4 x 10<tspan font-size="7" dy="-4.1">7</tspan></text>
<line x1="329.0" y1="344.2" x2="333.5" y2="344.2" stroke="#555" stroke-width="0.7" />
<text x="328.6" y="346.4" font-size="8.7" text-anchor="end">2 x 10<tspan font-size="7" dy="-4.1">7</tspan></text>
<text x="331.7" y="374.6" font-size="8.2" text-anchor="end" >0</text>
<line x1="333.5" y1="369.8" x2="503" y2="369.8" stroke="#000" stroke-width="1.3" />
<text x="409.2" y="379.6" font-size="8.5" text-anchor="middle" >6</text>
<text x="488" y="379.8" font-size="8.5" text-anchor="middle" >8</text>
<text x="418" y="388.8" font-size="8.5" text-anchor="middle" >Time (min)</text>
<text transform="translate(294.8,317) rotate(-90)" font-size="8.5" text-anchor="middle">Relative Abundance</text>
<text x="391.8" y="281.8" font-size="9.3" text-anchor="middle">[M+H]<tspan font-size="5.58" dy="-3.4">+</tspan><tspan dy="3.4"> = 156.03232</tspan></text>
<text x="393.8" y="293.6" font-size="10.6" text-anchor="middle">C<tspan font-size="7.8" dy="2.6">3</tspan><tspan dy="-2.6">H</tspan><tspan font-size="7.8" dy="2.6">10</tspan><tspan dy="-2.6">NO</tspan><tspan font-size="7.8" dy="2.6">4</tspan><tspan dy="-2.6">S</tspan></text>
<polyline points="408.50,368.30 436.30,368.30 437.50,345.00 438.70,320.00 439.20,300.00 440.50,267.40 441.60,289.00 441.90,316.00 442.40,330.00 443.80,350.70 446.50,361.50 453.60,366.30 470.00,368.00 486.00,368.30" fill="none" stroke="#000" stroke-width="1.4" stroke-linejoin="round" stroke-linecap="round" stroke-dasharray="3,2"/>
<line x1="440.5" y1="267.4" x2="440.8" y2="279" stroke="#000" stroke-width="1.0" />
<polyline points="436.00,369.60 436.25,369.60 436.50,369.60 436.75,369.60 437.00,369.60 437.25,369.60 437.50,369.60 437.75,369.60 438.00,369.60 438.25,369.60 438.50,369.60 438.75,369.60 439.00,369.59 439.25,369.55 439.50,369.32 439.75,368.37 440.00,365.40 440.25,358.47 440.50,346.63 440.75,332.66 441.00,323.33 441.10,322.40 441.25,324.48 441.50,335.33 441.75,349.32 442.00,360.26 442.25,365.98 442.50,366.66 442.75,367.21 443.00,367.66 443.25,368.03 443.50,368.32 443.75,368.56 444.00,368.76 444.25,368.92 444.50,369.04 444.75,369.15 445.00,369.23 445.25,369.30 445.50,369.36 445.75,369.40 446.00,369.44 446.25,369.47 446.50,369.50 446.75,369.51 447.00,369.53 447.25,369.54 447.50,369.55 447.75,369.56 448.00,369.57 448.25,369.58 448.50,369.58 448.75,369.58 449.00,369.59 449.25,369.59 449.50,369.59 449.75,369.59 450.00,369.59 450.25,369.60 450.50,369.60 450.75,369.60 451.00,369.60 451.25,369.60 451.50,369.60 451.75,369.60 452.00,369.60 452.25,369.60 452.50,369.60 452.75,369.60 453.00,369.60 453.25,369.60 453.50,369.60 453.75,369.60 454.00,369.60 454.25,369.60 454.50,369.60 454.75,369.60 455.00,369.60 455.25,369.60 455.50,369.60 455.75,369.60 456.00,369.60 456.25,369.60 456.50,369.60 456.75,369.60 457.00,369.60 457.25,369.60 457.50,369.60 457.75,369.60 458.00,369.60 458.25,369.60 458.50,369.60 458.75,369.60 459.00,369.60 459.25,369.60 459.50,369.60 459.75,369.60 460.00,369.60 460.25,369.60 460.50,369.60 460.75,369.60 461.00,369.60 461.25,369.60 461.50,369.60 461.75,369.60 462.00,369.60 462.25,369.60 462.50,369.60 462.75,369.60 463.00,369.60 463.25,369.60 463.50,369.60 463.75,369.60 464.00,369.60 464.25,369.60 464.50,369.60 464.75,369.60 465.00,369.60 465.25,369.60 465.50,369.60 465.75,369.60 466.00,369.60 466.25,369.60 466.50,369.60 466.75,369.60 467.00,369.60 467.25,369.60 467.50,369.60 467.75,369.60 468.00,369.60 468.25,369.60 468.50,369.60 468.75,369.60 469.00,369.60 469.25,369.60 469.50,369.60 469.75,369.60 470.00,369.60" fill="none" stroke="#000" stroke-width="1.8" stroke-linejoin="round" stroke-linecap="round" />
</g></svg></body></html>
